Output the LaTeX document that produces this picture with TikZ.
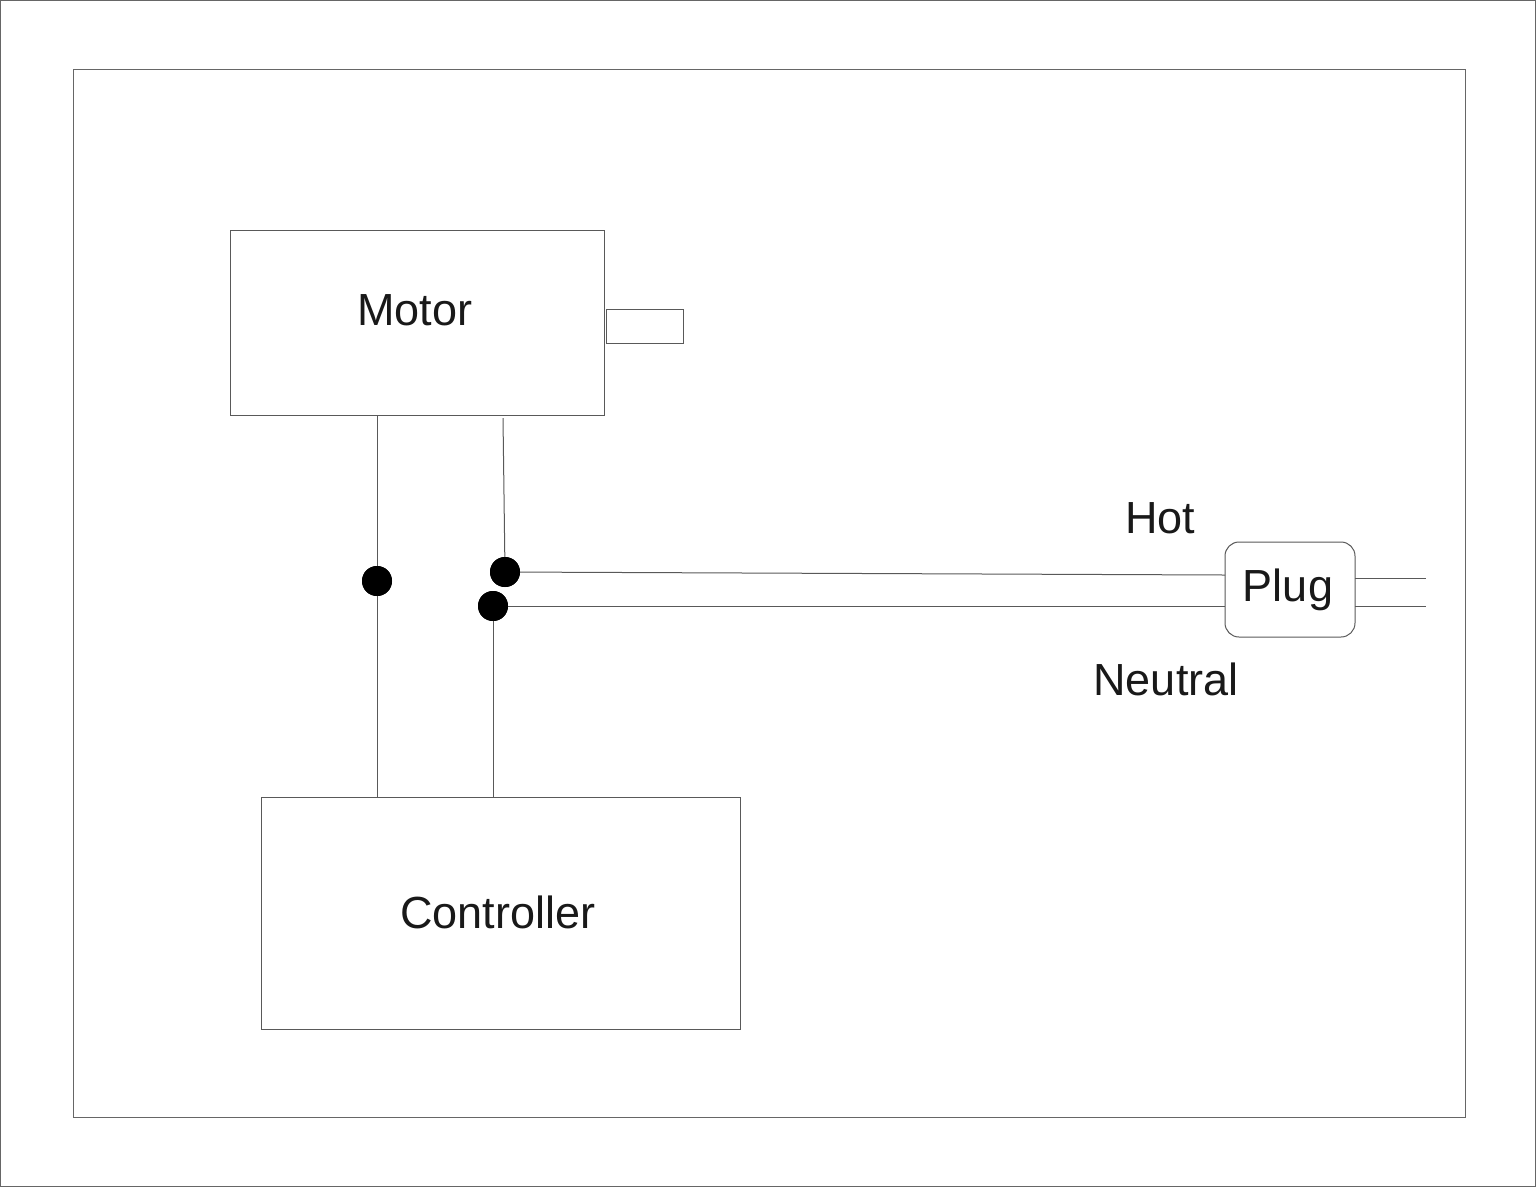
\documentclass[tikz,border=0pt]{standalone}
\usepackage{fontspec}
\setmainfont{Liberation Sans}
\begin{document}
\begin{tikzpicture}[x=1pt,y=-1pt,
  wire/.style={draw=black!65,line width=1pt},
  box/.style={draw=black!65,line width=1pt,fill=white},
  lbl/.style={font=\fontsize{45}{50}\selectfont,text=black!90},
  dot/.style={circle,fill=black,inner sep=0pt,minimum size=30pt}]
\useasboundingbox (0,0) rectangle (1536,1187);
\draw[black!60,line width=1pt] (0.5,0.5) rectangle (1535.5,1186.5);
\draw[black!60,line width=1pt] (73,69) rectangle (1465,1117);
\node[box,minimum width=374pt,minimum height=185pt,inner sep=0pt] (motor) at (417,322.5) {};
\node[lbl] (mt) at (415,310) {Motor};
\node[box,minimum width=77pt,minimum height=34pt,inner sep=0pt,anchor=north west] (shaft) at (606,309) {};
\node[box,minimum width=479pt,minimum height=232pt,inner sep=0pt] (ctrl) at (500.5,913) {};
\node[lbl] (ct) at (498,912) {Controller};
\node[box,rounded corners=14pt,minimum width=130pt,minimum height=95pt,inner sep=0pt] (plug) at (1290,589.5) {};
\node[lbl] (pl) at (1288,590) {Plug};
\node[lbl] (hot) at (1160,518) {Hot};
\node[lbl] (neu) at (1166,679) {Neutral};
\node[dot] (d1) at (377,581) {};
\node[dot] (d2) at (505,572) {};
\node[dot] (d3) at (493,606) {};
\coordinate (o1) at (1426,578);
\coordinate (o2) at (1426,606);
\draw[wire] (377,415) -- (d1) -- (377,797);
\draw[wire] (503,418) -- (d2);
\draw[wire] (d3) -- (493,797);
\draw[wire] (d2.center) -- (1225,575);
\draw[wire] (d3.center) -- (1225,606);
\draw[wire] (1355,578) -- (o1);
\draw[wire] (1355,606) -- (o2);
\node[dot] at (377,581) {};
\node[dot] at (505,572) {};
\node[dot] at (493,606) {};
\end{tikzpicture}
\end{document}
